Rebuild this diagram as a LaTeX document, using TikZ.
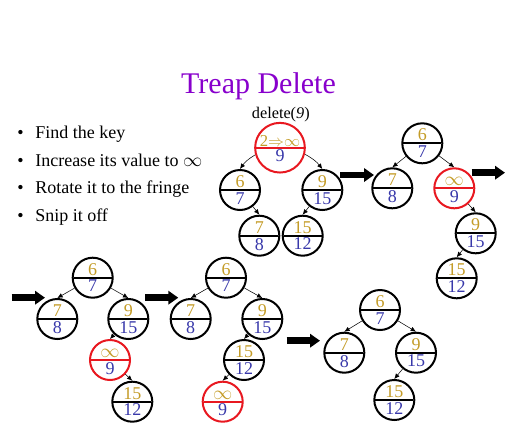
\documentclass[tikz,border=0pt]{standalone}
\usepackage{amsmath}
\usepackage{amssymb}
\usepackage{fontspec}
\setmainfont{Liberation Serif}
\usetikzlibrary{shapes.multipart,arrows.meta}

\definecolor{titlepurple}{RGB}{136,0,204}
\definecolor{keygold}{RGB}{196,156,40}
\definecolor{priblue}{RGB}{56,56,170}
\definecolor{delred}{RGB}{232,24,32}

\tikzset{
	tnode/.style={circle split, draw, line width=1.5pt, minimum size=30pt, inner sep=1pt, font=\fontsize{13.5}{14}\selectfont},
	delnode/.style={tnode, draw=delred},
	edge/.style={line width=0.4pt, -{Latex[length=4pt,width=3.5pt]}},
	bigarrow/.style={line width=5pt, -{Triangle[length=7.5pt,width=10pt]}},
	bullet/.style={anchor=base west, inner sep=0pt, font=\fontsize{13.5}{15}\selectfont}
}

\begin{document}
\begin{tikzpicture}[x=0.75pt,y=0.75pt,yscale=-1,xscale=1]
		\useasboundingbox (0,0) rectangle (510,447);
		
		% Title
		\node [anchor=base, inner sep=0pt, text=titlepurple, font=\fontsize{22.5}{24}\selectfont] (title) at (258.5,93.3) {Treap Delete};
		% Bullets
		\node [bullet] (b1) at (17,138) {\textbullet\hspace{8.8pt}Find the key};
		\node [bullet] (b2) at (17,166) {\textbullet\hspace{8.8pt}Increase its value to $\infty$};
		\node [bullet] (b3) at (17,193.5) {\textbullet\hspace{8.8pt}Rotate it to the fringe};
		\node [bullet] (b4) at (17,221) {\textbullet\hspace{8.8pt}Snip it off};
		% Text Node
		\node [anchor=base, inner sep=0pt, font=\fontsize{12.2}{13}\selectfont] (call) at (280.8,118.3) {delete(\textit{9})};
		
		% Tree 1
		\node [delnode, minimum size=34.5pt, inner sep=0.3pt] (t1r) at (280,147.7) {\color{keygold}\fontsize{12.5}{13}\selectfont 2$\Rightarrow$$\infty$ \nodepart{lower} \color{priblue}9};
		\node [tnode] (t1a) at (240,190) {\color{keygold}6 \nodepart{lower} \color{priblue}7};
		\node [tnode] (t1b) at (322.3,190) {\color{keygold}9 \nodepart{lower} \color{priblue}15};
		\node [tnode] (t1c) at (259.3,235.7) {\color{keygold}7 \nodepart{lower} \color{priblue}8};
		\node [tnode] (t1d) at (302.7,235.7) {\color{keygold}15 \nodepart{lower} \color{priblue}12};
		% Connection
		\draw [edge] (t1r) to [bend left=12] (t1a.north);
		\draw [edge] (t1r) to [bend right=12] (t1b.north);
		\draw [edge] (t1a) -- (t1c.north);
		\draw [edge] (t1b) -- (t1d.north);
		
		% Tree 2
		\node [tnode] (t2r) at (422.3,143.3) {\color{keygold}6 \nodepart{lower} \color{priblue}7};
		\node [tnode] (t2a) at (392.3,188.3) {\color{keygold}7 \nodepart{lower} \color{priblue}8};
		\node [delnode] (t2b) at (454.3,188.3) {\color{keygold}$\infty$ \nodepart{lower} \color{priblue}9};
		\node [tnode] (t2c) at (475.7,233.3) {\color{keygold}9 \nodepart{lower} \color{priblue}15};
		\node [tnode] (t2d) at (456.7,278.3) {\color{keygold}15 \nodepart{lower} \color{priblue}12};
		% Connection
		\draw [edge] (t2r) -- (t2a.north);
		\draw [edge] (t2r) -- (t2b.north);
		\draw [edge] (t2b) -- (t2c.north);
		\draw [edge] (t2c) -- (t2d.north);
		
		% Tree 3
		\node [tnode] (t3r) at (92.7,277.7) {\color{keygold}6 \nodepart{lower} \color{priblue}7};
		\node [tnode] (t3a) at (57.3,319) {\color{keygold}7 \nodepart{lower} \color{priblue}8};
		\node [tnode] (t3b) at (128.3,319) {\color{keygold}9 \nodepart{lower} \color{priblue}15};
		\node [delnode] (t3c) at (110,360) {\color{keygold}$\infty$ \nodepart{lower} \color{priblue}9};
		\node [tnode] (t3d) at (132.3,401.7) {\color{keygold}15 \nodepart{lower} \color{priblue}12};
		% Connection
		\draw [edge] (t3r) -- (t3a.north);
		\draw [edge] (t3r) -- (t3b.north);
		\draw [edge] (t3b) -- (t3c.north);
		\draw [edge] (t3c) -- (t3d.north);
		
		% Tree 4
		\node [tnode] (t4r) at (226,277.7) {\color{keygold}6 \nodepart{lower} \color{priblue}7};
		\node [tnode] (t4a) at (190.7,319) {\color{keygold}7 \nodepart{lower} \color{priblue}8};
		\node [tnode] (t4b) at (262.3,319) {\color{keygold}9 \nodepart{lower} \color{priblue}15};
		\node [tnode] (t4c) at (244,360) {\color{keygold}15 \nodepart{lower} \color{priblue}12};
		\node [delnode] (t4d) at (222.7,401.7) {\color{keygold}$\infty$ \nodepart{lower} \color{priblue}9};
		% Connection
		\draw [edge] (t4r) -- (t4a.north);
		\draw [edge] (t4r) -- (t4b.north);
		\draw [edge] (t4b) -- (t4c.north);
		\draw [edge] (t4c) -- (t4d.north);
		
		% Tree 5
		\node [tnode] (t5r) at (380,310) {\color{keygold}6 \nodepart{lower} \color{priblue}7};
		\node [tnode] (t5a) at (344.3,352.7) {\color{keygold}7 \nodepart{lower} \color{priblue}8};
		\node [tnode] (t5b) at (416,352.7) {\color{keygold}9 \nodepart{lower} \color{priblue}15};
		\node [tnode] (t5c) at (394.3,400) {\color{keygold}15 \nodepart{lower} \color{priblue}12};
		% Connection
		\draw [edge] (t5r) -- (t5a.north);
		\draw [edge] (t5r) -- (t5b.north);
		\draw [edge] (t5b) -- (t5c.north);
		
		% Step arrows
		\coordinate (s1a) at (340,175);   \coordinate (s1b) at (374,175);
		\coordinate (s2a) at (471.7,172.7); \coordinate (s2b) at (505,172.7);
		\coordinate (s3a) at (11.7,297.7);  \coordinate (s3b) at (45,297.7);
		\coordinate (s4a) at (145,297.7);   \coordinate (s4b) at (178.3,297.7);
		\coordinate (s5a) at (286.7,340.7); \coordinate (s5b) at (320,340.7);
		\draw [bigarrow] (s1a) -- (s1b);
		\draw [bigarrow] (s2a) -- (s2b);
		\draw [bigarrow] (s3a) -- (s3b);
		\draw [bigarrow] (s4a) -- (s4b);
		\draw [bigarrow] (s5a) -- (s5b);
		
\end{tikzpicture}
\end{document}
